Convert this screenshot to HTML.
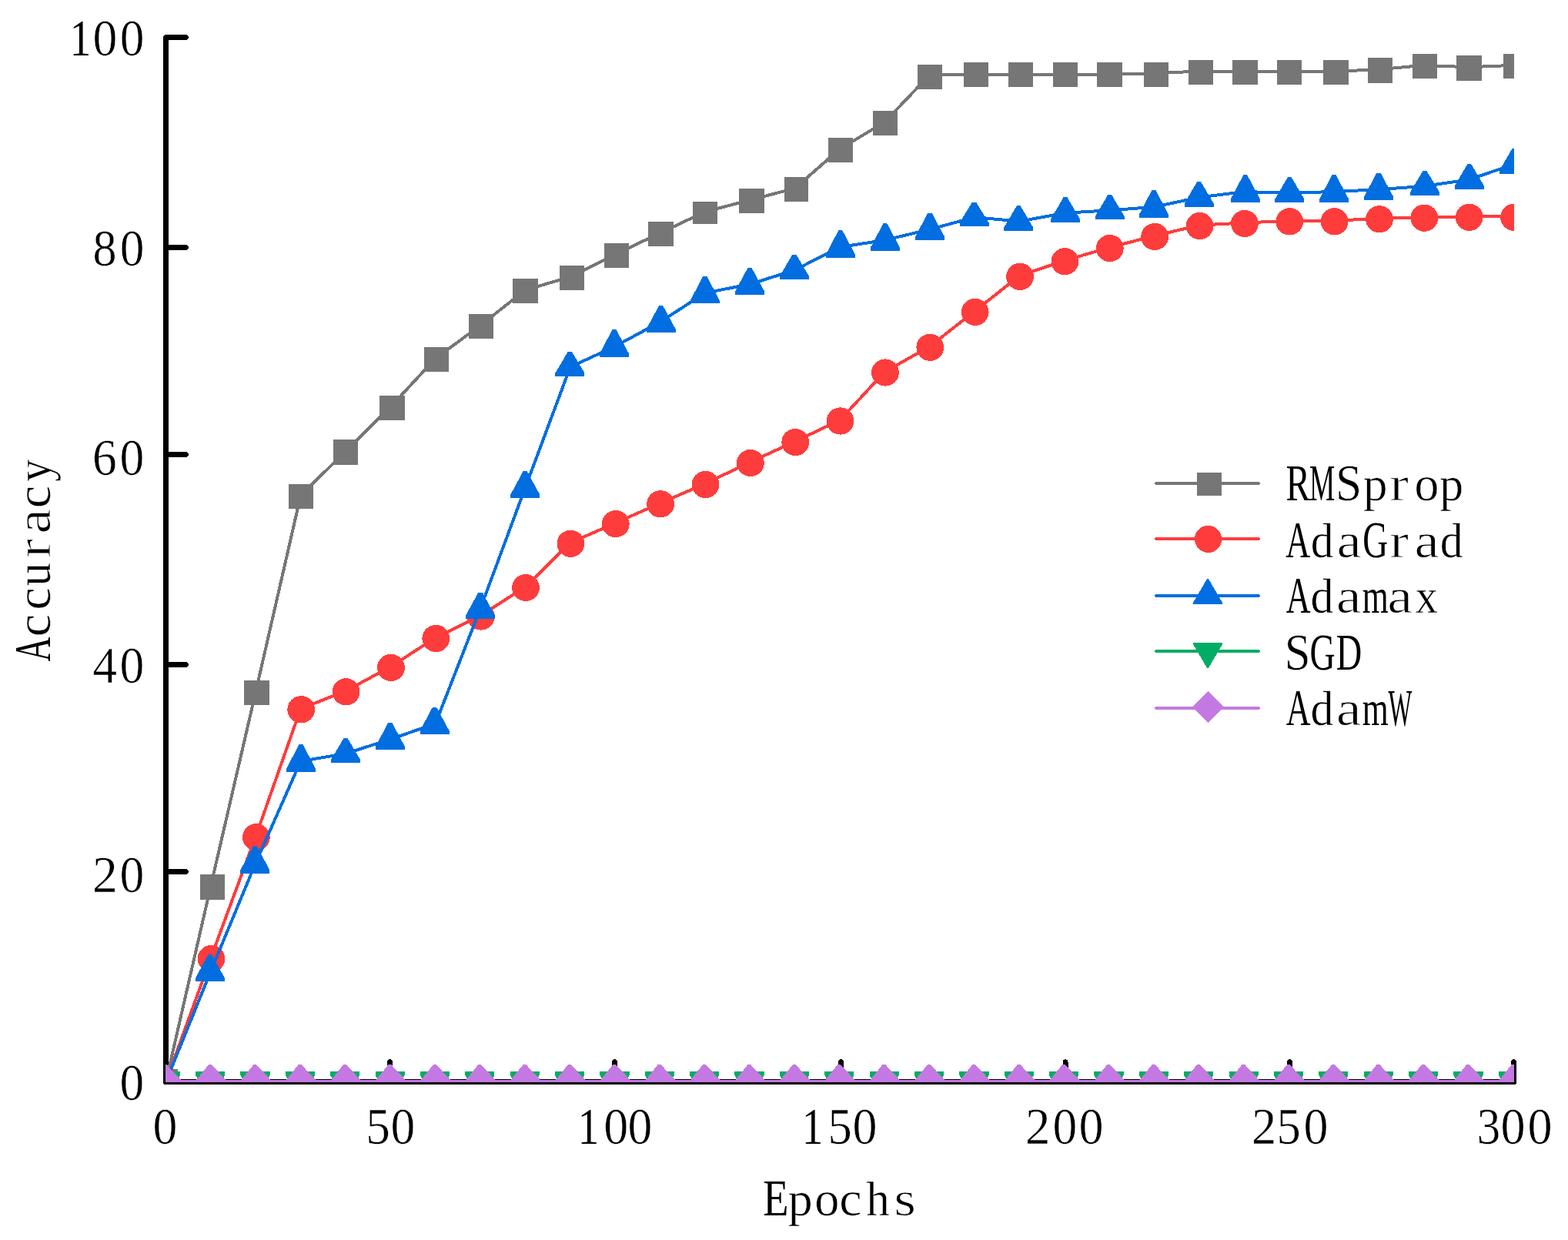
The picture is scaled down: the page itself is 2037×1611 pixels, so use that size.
<!DOCTYPE html>
<html lang="en">
<head>
<meta charset="utf-8">
<title>Accuracy vs Epochs</title>
<style>
html,body{margin:0;padding:0;background:#fff;}
body{width:2037px;height:1611px;overflow:hidden;}
svg{display:block;}
text{font-family:"Liberation Serif",serif;white-space:pre;}
</style>
</head>
<body>
<svg width="2037" height="1611" viewBox="0 0 2037 1611" shape-rendering="crispEdges" role="img" aria-label="Accuracy versus epochs for five optimizers">
<defs><clipPath id="plot"><rect x="215" y="48" width="1752" height="1358"/></clipPath></defs>
<rect width="2037" height="1611" fill="#fff"/>
<path d="M241.2 48.5H215.5V1405.5H1966.5V1379.8M215.5 321.5H241.2M215.5 590.5H241.2M215.5 863.5H241.2M215.5 1132.5H241.2M506.5 1405.5V1379.8M798.5 1405.5V1379.8M1092.5 1405.5V1379.8M1384 1405.5V1379.8M1675.5 1405.5V1379.8" fill="none" stroke="#000" stroke-width="7" stroke-linecap="round" stroke-linejoin="round"/>
<g clip-path="url(#plot)">
<polyline points="215.5,1405.5 273.87,1151 332.23,898.75 390.6,643.8 448.97,586.25 507.33,528.6 565.7,465.75 624.07,422.85 682.43,376.75 740.8,359.75 799.17,330.55 857.53,302.75 915.9,275.2 974.27,259.85 1032.63,244.65 1091,193.55 1149.37,158.6 1207.73,97.2 1266.1,96.8 1324.47,96.8 1382.83,96.8 1441.2,96.8 1499.57,95.2 1557.93,92.55 1616.3,92.8 1674.67,92.8 1733.03,92.8 1791.4,90.3 1849.77,84.8 1908.13,87.25 1966.5,84.8" fill="none" stroke="#767676" stroke-width="4" stroke-linejoin="round" stroke-linecap="round"/>
<rect x="198.5" y="1389.2" width="32.5" height="32" fill="#767676"/>
<rect x="260.1" y="1136.1" width="31.9" height="32.4" fill="#767676"/>
<rect x="317.1" y="884.1" width="32.6" height="31.9" fill="#767676"/>
<rect x="375" y="629.2" width="31.9" height="31.8" fill="#767676"/>
<rect x="433.2" y="571.2" width="31.9" height="32.7" fill="#767676"/>
<rect x="493.1" y="514.1" width="32.8" height="31.6" fill="#767676"/>
<rect x="551" y="451.2" width="31.9" height="31.7" fill="#767676"/>
<rect x="608.7" y="408.2" width="32.4" height="31.9" fill="#767676"/>
<rect x="665.9" y="362.1" width="33.1" height="31.9" fill="#767676"/>
<rect x="726.8" y="345.1" width="32.4" height="31.9" fill="#767676"/>
<rect x="785" y="315.9" width="31.9" height="31.9" fill="#767676"/>
<rect x="842.2" y="288.1" width="32.6" height="31.9" fill="#767676"/>
<rect x="900.4" y="261.9" width="31.9" height="29.2" fill="#767676"/>
<rect x="960" y="245.2" width="33.1" height="31.9" fill="#767676"/>
<rect x="1018.9" y="230" width="31.2" height="31.9" fill="#767676"/>
<rect x="1076.1" y="178.9" width="31.9" height="31.9" fill="#767676"/>
<rect x="1134.3" y="143.8" width="31.9" height="32.2" fill="#767676"/>
<rect x="1192.1" y="83.8" width="31.9" height="32.2" fill="#767676"/>
<rect x="1252" y="80.9" width="32.1" height="31.9" fill="#767676"/>
<rect x="1309.9" y="80.9" width="31.9" height="31.9" fill="#767676"/>
<rect x="1368.1" y="80.9" width="31.9" height="31.9" fill="#767676"/>
<rect x="1425" y="80.9" width="33.2" height="31.9" fill="#767676"/>
<rect x="1485.9" y="80.9" width="32.4" height="31.9" fill="#767676"/>
<rect x="1544.1" y="77.9" width="31.9" height="31.9" fill="#767676"/>
<rect x="1601.1" y="78.2" width="32.9" height="31.8" fill="#767676"/>
<rect x="1658.8" y="78.2" width="32.5" height="31.8" fill="#767676"/>
<rect x="1718.9" y="78.2" width="33.2" height="31.8" fill="#767676"/>
<rect x="1776.8" y="75.3" width="32.3" height="32.6" fill="#767676"/>
<rect x="1835" y="70.2" width="32.1" height="31.8" fill="#767676"/>
<rect x="1892" y="72.3" width="33" height="32.5" fill="#767676"/>
<rect x="1953.3" y="70.2" width="32.7" height="31.8" fill="#767676"/>
<polyline points="215.5,1405.5 273.87,1244.6 332.23,1086.8 390.6,920.8 448.97,897.8 507.33,866.4 565.7,828.5 624.07,800 682.43,762.5 740.8,705.3 799.17,679.6 857.53,653.8 915.9,628.5 974.27,600.5 1032.63,573.6 1091,546 1149.37,483 1207.73,450.3 1266.1,404.4 1324.47,358.3 1382.83,338.7 1441.2,321.5 1499.57,306.5 1557.93,292.6 1616.3,289.5 1674.67,286.8 1733.03,286.8 1791.4,283.8 1849.77,282.2 1908.13,281.3 1966.5,281.3" fill="none" stroke="#FF3C3C" stroke-width="4" stroke-linejoin="round" stroke-linecap="round"/>
<ellipse cx="216.1" cy="1405.5" rx="17.9" ry="17.6" fill="#FF3C3C"/>
<ellipse cx="274.47" cy="1245.6" rx="17.9" ry="17.6" fill="#FF3C3C"/>
<ellipse cx="332.83" cy="1087.8" rx="17.9" ry="17.6" fill="#FF3C3C"/>
<ellipse cx="391.2" cy="921.8" rx="17.9" ry="17.6" fill="#FF3C3C"/>
<ellipse cx="449.57" cy="898.8" rx="17.9" ry="17.6" fill="#FF3C3C"/>
<ellipse cx="507.93" cy="867.4" rx="17.9" ry="17.6" fill="#FF3C3C"/>
<ellipse cx="566.3" cy="829.5" rx="17.9" ry="17.6" fill="#FF3C3C"/>
<ellipse cx="624.67" cy="801" rx="17.9" ry="17.6" fill="#FF3C3C"/>
<ellipse cx="683.03" cy="763.5" rx="17.9" ry="17.6" fill="#FF3C3C"/>
<ellipse cx="741.4" cy="706.3" rx="17.9" ry="17.6" fill="#FF3C3C"/>
<ellipse cx="799.77" cy="680.6" rx="17.9" ry="17.6" fill="#FF3C3C"/>
<ellipse cx="858.13" cy="654.8" rx="17.9" ry="17.6" fill="#FF3C3C"/>
<ellipse cx="916.5" cy="629.5" rx="17.9" ry="17.6" fill="#FF3C3C"/>
<ellipse cx="974.87" cy="601.5" rx="17.9" ry="17.6" fill="#FF3C3C"/>
<ellipse cx="1033.23" cy="574.6" rx="17.9" ry="17.6" fill="#FF3C3C"/>
<ellipse cx="1091.6" cy="547" rx="17.9" ry="17.6" fill="#FF3C3C"/>
<ellipse cx="1149.97" cy="484" rx="17.9" ry="17.6" fill="#FF3C3C"/>
<ellipse cx="1208.33" cy="451.3" rx="17.9" ry="17.6" fill="#FF3C3C"/>
<ellipse cx="1266.7" cy="405.4" rx="17.9" ry="17.6" fill="#FF3C3C"/>
<ellipse cx="1325.07" cy="359.3" rx="17.9" ry="17.6" fill="#FF3C3C"/>
<ellipse cx="1383.43" cy="339.7" rx="17.9" ry="17.6" fill="#FF3C3C"/>
<ellipse cx="1441.8" cy="322.5" rx="17.9" ry="17.6" fill="#FF3C3C"/>
<ellipse cx="1500.17" cy="307.5" rx="17.9" ry="17.6" fill="#FF3C3C"/>
<ellipse cx="1558.53" cy="293.6" rx="17.9" ry="17.6" fill="#FF3C3C"/>
<ellipse cx="1616.9" cy="290.5" rx="17.9" ry="17.6" fill="#FF3C3C"/>
<ellipse cx="1675.27" cy="287.8" rx="17.9" ry="17.6" fill="#FF3C3C"/>
<ellipse cx="1733.63" cy="287.8" rx="17.9" ry="17.6" fill="#FF3C3C"/>
<ellipse cx="1792" cy="284.8" rx="17.9" ry="17.6" fill="#FF3C3C"/>
<ellipse cx="1850.37" cy="283.2" rx="17.9" ry="17.6" fill="#FF3C3C"/>
<ellipse cx="1908.73" cy="282.3" rx="17.9" ry="17.6" fill="#FF3C3C"/>
<ellipse cx="1967.1" cy="282.3" rx="17.9" ry="17.6" fill="#FF3C3C"/>
<polyline points="215.5,1405.5 273.87,1261.65 332.23,1120.95 390.6,989.05 448.97,979.05 507.33,960.45 565.7,940.1 624.07,790.6 682.43,633.45 740.8,476.85 799.17,449.85 857.53,418.35 915.9,380.65 974.27,369.25 1032.63,350.85 1091,321.05 1149.37,312 1207.73,298.1 1266.1,282.15 1324.47,287.65 1382.83,276.75 1441.2,273.3 1499.57,268.85 1557.93,256.35 1616.3,249.05 1674.67,250.6 1733.03,249.05 1791.4,246.1 1849.77,241.95 1908.13,233.4 1966.5,213.5" fill="none" stroke="#006EE0" stroke-width="4" stroke-linejoin="round" stroke-linecap="round"/>
<path d="M212.5 1384L217.4 1384L234.1 1414.9L234.1 1418.9L196.1 1418.9L196.1 1414.6Z" fill="#006EE0"/>
<path d="M270.45 1240.4L275.35 1240.4L292.05 1270.8L292.05 1274.8L254.05 1274.8L254.05 1270.5Z" fill="#006EE0"/>
<path d="M328.85 1099.2L333.75 1099.2L350.45 1130.6L350.45 1134.6L312.45 1134.6L312.45 1130.3Z" fill="#006EE0"/>
<path d="M388.55 967.1L393.45 967.1L410.15 998.9L410.15 1002.9L372.15 1002.9L372.15 998.6Z" fill="#006EE0"/>
<path d="M446.55 959L451.45 959L468.15 987L468.15 991L430.15 991L430.15 986.7Z" fill="#006EE0"/>
<path d="M504.35 938.9L509.25 938.9L525.95 969.9L525.95 973.9L487.95 973.9L487.95 969.6Z" fill="#006EE0"/>
<path d="M562.05 918.5L566.95 918.5L583.65 949.6L583.65 953.6L545.65 953.6L545.65 949.3Z" fill="#006EE0"/>
<path d="M621.55 769.5L626.45 769.5L643.15 799.6L643.15 803.6L605.15 803.6L605.15 799.3Z" fill="#006EE0"/>
<path d="M679.75 612L684.65 612L701.35 642.8L701.35 646.8L663.35 646.8L663.35 642.5Z" fill="#006EE0"/>
<path d="M737.85 456.9L742.75 456.9L759.45 484.7L759.45 488.7L721.45 488.7L721.45 484.4Z" fill="#006EE0"/>
<path d="M795.55 428L800.45 428L817.15 459.6L817.15 463.6L779.15 463.6L779.15 459.3Z" fill="#006EE0"/>
<path d="M856.15 396.9L861.05 396.9L877.75 427.7L877.75 431.7L839.75 431.7L839.75 427.4Z" fill="#006EE0"/>
<path d="M913.35 358.8L918.25 358.8L934.95 390.4L934.95 394.4L896.95 394.4L896.95 390.1Z" fill="#006EE0"/>
<path d="M971.55 347.8L976.45 347.8L993.15 378.6L993.15 382.6L955.15 382.6L955.15 378.3Z" fill="#006EE0"/>
<path d="M1029.45 330.6L1034.35 330.6L1051.05 359L1051.05 363L1013.05 363L1013.05 358.7Z" fill="#006EE0"/>
<path d="M1089.35 299.2L1094.25 299.2L1110.95 330.8L1110.95 334.8L1072.95 334.8L1072.95 330.5Z" fill="#006EE0"/>
<path d="M1147.45 290.3L1152.35 290.3L1169.05 321.6L1169.05 325.6L1131.05 325.6L1131.05 321.3Z" fill="#006EE0"/>
<path d="M1205.55 276.5L1210.45 276.5L1227.15 307.6L1227.15 311.6L1189.15 311.6L1189.15 307.3Z" fill="#006EE0"/>
<path d="M1263.05 262.5L1267.95 262.5L1284.65 289.7L1284.65 293.7L1246.65 293.7L1246.65 289.4Z" fill="#006EE0"/>
<path d="M1320.75 267.4L1325.65 267.4L1342.35 295.8L1342.35 299.8L1304.35 299.8L1304.35 295.5Z" fill="#006EE0"/>
<path d="M1381.55 256.4L1386.45 256.4L1403.15 285L1403.15 289L1365.15 289L1365.15 284.7Z" fill="#006EE0"/>
<path d="M1439.25 253.2L1444.15 253.2L1460.85 281.3L1460.85 285.3L1422.85 285.3L1422.85 281Z" fill="#006EE0"/>
<path d="M1496.45 247L1501.35 247L1518.05 278.6L1518.05 282.6L1480.05 282.6L1480.05 278.3Z" fill="#006EE0"/>
<path d="M1555.15 236L1560.05 236L1576.75 264.6L1576.75 268.6L1538.75 268.6L1538.75 264.3Z" fill="#006EE0"/>
<path d="M1615.35 227.3L1620.25 227.3L1636.95 258.7L1636.95 262.7L1598.95 262.7L1598.95 258.4Z" fill="#006EE0"/>
<path d="M1672.85 230.4L1677.75 230.4L1694.45 258.7L1694.45 262.7L1656.45 262.7L1656.45 258.4Z" fill="#006EE0"/>
<path d="M1730.55 227.3L1735.45 227.3L1752.15 258.7L1752.15 262.7L1714.15 262.7L1714.15 258.4Z" fill="#006EE0"/>
<path d="M1788.55 224.5L1793.45 224.5L1810.15 255.6L1810.15 259.6L1772.15 259.6L1772.15 255.3Z" fill="#006EE0"/>
<path d="M1848.55 222.1L1853.45 222.1L1870.15 249.7L1870.15 253.7L1832.15 253.7L1832.15 249.4Z" fill="#006EE0"/>
<path d="M1906.35 213.2L1911.25 213.2L1927.95 241.5L1927.95 245.5L1889.95 245.5L1889.95 241.2Z" fill="#006EE0"/>
<path d="M1964.35 193.2L1969.25 193.2L1985.95 221.7L1985.95 225.7L1947.95 225.7L1947.95 221.4Z" fill="#006EE0"/>
<polyline points="215.5,1405 273.87,1405 332.23,1405 390.6,1405 448.97,1405 507.33,1405 565.7,1405 624.07,1405 682.43,1405 740.8,1405 799.17,1405 857.53,1405 915.9,1405 974.27,1405 1032.63,1405 1091,1405 1149.37,1405 1207.73,1405 1266.1,1405 1324.47,1405 1382.83,1405 1441.2,1405 1499.57,1405 1557.93,1405 1616.3,1405 1674.67,1405 1733.03,1405 1791.4,1405 1849.77,1405 1908.13,1405 1966.5,1405" fill="none" stroke="#00AD64" stroke-width="4" stroke-linejoin="round" stroke-linecap="round"/>
<path d="M195.7 1392.1L233.9 1392.1L233.9 1396.9L217.4 1427.1L212.5 1427.1L195.7 1396.9Z" fill="#00AD64"/>
<path d="M254.07 1392.1L292.27 1392.1L292.27 1396.9L275.77 1427.1L270.87 1427.1L254.07 1396.9Z" fill="#00AD64"/>
<path d="M312.43 1392.1L350.63 1392.1L350.63 1396.9L334.13 1427.1L329.23 1427.1L312.43 1396.9Z" fill="#00AD64"/>
<path d="M370.8 1392.1L409 1392.1L409 1396.9L392.5 1427.1L387.6 1427.1L370.8 1396.9Z" fill="#00AD64"/>
<path d="M429.17 1392.1L467.37 1392.1L467.37 1396.9L450.87 1427.1L445.97 1427.1L429.17 1396.9Z" fill="#00AD64"/>
<path d="M487.53 1392.1L525.73 1392.1L525.73 1396.9L509.23 1427.1L504.33 1427.1L487.53 1396.9Z" fill="#00AD64"/>
<path d="M545.9 1392.1L584.1 1392.1L584.1 1396.9L567.6 1427.1L562.7 1427.1L545.9 1396.9Z" fill="#00AD64"/>
<path d="M604.27 1392.1L642.47 1392.1L642.47 1396.9L625.97 1427.1L621.07 1427.1L604.27 1396.9Z" fill="#00AD64"/>
<path d="M662.63 1392.1L700.83 1392.1L700.83 1396.9L684.33 1427.1L679.43 1427.1L662.63 1396.9Z" fill="#00AD64"/>
<path d="M721 1392.1L759.2 1392.1L759.2 1396.9L742.7 1427.1L737.8 1427.1L721 1396.9Z" fill="#00AD64"/>
<path d="M779.37 1392.1L817.57 1392.1L817.57 1396.9L801.07 1427.1L796.17 1427.1L779.37 1396.9Z" fill="#00AD64"/>
<path d="M837.73 1392.1L875.93 1392.1L875.93 1396.9L859.43 1427.1L854.53 1427.1L837.73 1396.9Z" fill="#00AD64"/>
<path d="M896.1 1392.1L934.3 1392.1L934.3 1396.9L917.8 1427.1L912.9 1427.1L896.1 1396.9Z" fill="#00AD64"/>
<path d="M954.47 1392.1L992.67 1392.1L992.67 1396.9L976.17 1427.1L971.27 1427.1L954.47 1396.9Z" fill="#00AD64"/>
<path d="M1012.83 1392.1L1051.03 1392.1L1051.03 1396.9L1034.53 1427.1L1029.63 1427.1L1012.83 1396.9Z" fill="#00AD64"/>
<path d="M1071.2 1392.1L1109.4 1392.1L1109.4 1396.9L1092.9 1427.1L1088 1427.1L1071.2 1396.9Z" fill="#00AD64"/>
<path d="M1129.57 1392.1L1167.77 1392.1L1167.77 1396.9L1151.27 1427.1L1146.37 1427.1L1129.57 1396.9Z" fill="#00AD64"/>
<path d="M1187.93 1392.1L1226.13 1392.1L1226.13 1396.9L1209.63 1427.1L1204.73 1427.1L1187.93 1396.9Z" fill="#00AD64"/>
<path d="M1246.3 1392.1L1284.5 1392.1L1284.5 1396.9L1268 1427.1L1263.1 1427.1L1246.3 1396.9Z" fill="#00AD64"/>
<path d="M1304.67 1392.1L1342.87 1392.1L1342.87 1396.9L1326.37 1427.1L1321.47 1427.1L1304.67 1396.9Z" fill="#00AD64"/>
<path d="M1363.03 1392.1L1401.23 1392.1L1401.23 1396.9L1384.73 1427.1L1379.83 1427.1L1363.03 1396.9Z" fill="#00AD64"/>
<path d="M1421.4 1392.1L1459.6 1392.1L1459.6 1396.9L1443.1 1427.1L1438.2 1427.1L1421.4 1396.9Z" fill="#00AD64"/>
<path d="M1479.77 1392.1L1517.97 1392.1L1517.97 1396.9L1501.47 1427.1L1496.57 1427.1L1479.77 1396.9Z" fill="#00AD64"/>
<path d="M1538.13 1392.1L1576.33 1392.1L1576.33 1396.9L1559.83 1427.1L1554.93 1427.1L1538.13 1396.9Z" fill="#00AD64"/>
<path d="M1596.5 1392.1L1634.7 1392.1L1634.7 1396.9L1618.2 1427.1L1613.3 1427.1L1596.5 1396.9Z" fill="#00AD64"/>
<path d="M1654.87 1392.1L1693.07 1392.1L1693.07 1396.9L1676.57 1427.1L1671.67 1427.1L1654.87 1396.9Z" fill="#00AD64"/>
<path d="M1713.23 1392.1L1751.43 1392.1L1751.43 1396.9L1734.93 1427.1L1730.03 1427.1L1713.23 1396.9Z" fill="#00AD64"/>
<path d="M1771.6 1392.1L1809.8 1392.1L1809.8 1396.9L1793.3 1427.1L1788.4 1427.1L1771.6 1396.9Z" fill="#00AD64"/>
<path d="M1829.97 1392.1L1868.17 1392.1L1868.17 1396.9L1851.67 1427.1L1846.77 1427.1L1829.97 1396.9Z" fill="#00AD64"/>
<path d="M1888.33 1392.1L1926.53 1392.1L1926.53 1396.9L1910.03 1427.1L1905.13 1427.1L1888.33 1396.9Z" fill="#00AD64"/>
<path d="M1946.7 1392.1L1984.9 1392.1L1984.9 1396.9L1968.4 1427.1L1963.5 1427.1L1946.7 1396.9Z" fill="#00AD64"/>
<polyline points="215.5,1405 273.87,1405 332.23,1405 390.6,1405 448.97,1405 507.33,1405 565.7,1405 624.07,1405 682.43,1405 740.8,1405 799.17,1405 857.53,1405 915.9,1405 974.27,1405 1032.63,1405 1091,1405 1149.37,1405 1207.73,1405 1266.1,1405 1324.47,1405 1382.83,1405 1441.2,1405 1499.57,1405 1557.93,1405 1616.3,1405 1674.67,1405 1733.03,1405 1791.4,1405 1849.77,1405 1908.13,1405 1966.5,1405" fill="none" stroke="#C479E2" stroke-width="4" stroke-linejoin="round" stroke-linecap="round"/>
<path d="M212.8 1383L216.3 1383L235.3 1403.3L235.3 1407.5L216.3 1428L212.8 1428L196.5 1407.5L196.5 1403.3Z" fill="#C479E2"/>
<path d="M271.17 1383L274.67 1383L293.67 1403.3L293.67 1407.5L274.67 1428L271.17 1428L254.87 1407.5L254.87 1403.3Z" fill="#C479E2"/>
<path d="M329.53 1383L333.03 1383L352.03 1403.3L352.03 1407.5L333.03 1428L329.53 1428L313.23 1407.5L313.23 1403.3Z" fill="#C479E2"/>
<path d="M387.9 1383L391.4 1383L410.4 1403.3L410.4 1407.5L391.4 1428L387.9 1428L371.6 1407.5L371.6 1403.3Z" fill="#C479E2"/>
<path d="M446.27 1383L449.77 1383L468.77 1403.3L468.77 1407.5L449.77 1428L446.27 1428L429.97 1407.5L429.97 1403.3Z" fill="#C479E2"/>
<path d="M504.63 1383L508.13 1383L527.13 1403.3L527.13 1407.5L508.13 1428L504.63 1428L488.33 1407.5L488.33 1403.3Z" fill="#C479E2"/>
<path d="M563 1383L566.5 1383L585.5 1403.3L585.5 1407.5L566.5 1428L563 1428L546.7 1407.5L546.7 1403.3Z" fill="#C479E2"/>
<path d="M621.37 1383L624.87 1383L643.87 1403.3L643.87 1407.5L624.87 1428L621.37 1428L605.07 1407.5L605.07 1403.3Z" fill="#C479E2"/>
<path d="M679.73 1383L683.23 1383L702.23 1403.3L702.23 1407.5L683.23 1428L679.73 1428L663.43 1407.5L663.43 1403.3Z" fill="#C479E2"/>
<path d="M738.1 1383L741.6 1383L760.6 1403.3L760.6 1407.5L741.6 1428L738.1 1428L721.8 1407.5L721.8 1403.3Z" fill="#C479E2"/>
<path d="M796.47 1383L799.97 1383L818.97 1403.3L818.97 1407.5L799.97 1428L796.47 1428L780.17 1407.5L780.17 1403.3Z" fill="#C479E2"/>
<path d="M854.83 1383L858.33 1383L877.33 1403.3L877.33 1407.5L858.33 1428L854.83 1428L838.53 1407.5L838.53 1403.3Z" fill="#C479E2"/>
<path d="M913.2 1383L916.7 1383L935.7 1403.3L935.7 1407.5L916.7 1428L913.2 1428L896.9 1407.5L896.9 1403.3Z" fill="#C479E2"/>
<path d="M971.57 1383L975.07 1383L994.07 1403.3L994.07 1407.5L975.07 1428L971.57 1428L955.27 1407.5L955.27 1403.3Z" fill="#C479E2"/>
<path d="M1029.93 1383L1033.43 1383L1052.43 1403.3L1052.43 1407.5L1033.43 1428L1029.93 1428L1013.63 1407.5L1013.63 1403.3Z" fill="#C479E2"/>
<path d="M1088.3 1383L1091.8 1383L1110.8 1403.3L1110.8 1407.5L1091.8 1428L1088.3 1428L1072 1407.5L1072 1403.3Z" fill="#C479E2"/>
<path d="M1146.67 1383L1150.17 1383L1169.17 1403.3L1169.17 1407.5L1150.17 1428L1146.67 1428L1130.37 1407.5L1130.37 1403.3Z" fill="#C479E2"/>
<path d="M1205.03 1383L1208.53 1383L1227.53 1403.3L1227.53 1407.5L1208.53 1428L1205.03 1428L1188.73 1407.5L1188.73 1403.3Z" fill="#C479E2"/>
<path d="M1263.4 1383L1266.9 1383L1285.9 1403.3L1285.9 1407.5L1266.9 1428L1263.4 1428L1247.1 1407.5L1247.1 1403.3Z" fill="#C479E2"/>
<path d="M1321.77 1383L1325.27 1383L1344.27 1403.3L1344.27 1407.5L1325.27 1428L1321.77 1428L1305.47 1407.5L1305.47 1403.3Z" fill="#C479E2"/>
<path d="M1380.13 1383L1383.63 1383L1402.63 1403.3L1402.63 1407.5L1383.63 1428L1380.13 1428L1363.83 1407.5L1363.83 1403.3Z" fill="#C479E2"/>
<path d="M1438.5 1383L1442 1383L1461 1403.3L1461 1407.5L1442 1428L1438.5 1428L1422.2 1407.5L1422.2 1403.3Z" fill="#C479E2"/>
<path d="M1496.87 1383L1500.37 1383L1519.37 1403.3L1519.37 1407.5L1500.37 1428L1496.87 1428L1480.57 1407.5L1480.57 1403.3Z" fill="#C479E2"/>
<path d="M1555.23 1383L1558.73 1383L1577.73 1403.3L1577.73 1407.5L1558.73 1428L1555.23 1428L1538.93 1407.5L1538.93 1403.3Z" fill="#C479E2"/>
<path d="M1613.6 1383L1617.1 1383L1636.1 1403.3L1636.1 1407.5L1617.1 1428L1613.6 1428L1597.3 1407.5L1597.3 1403.3Z" fill="#C479E2"/>
<path d="M1671.97 1383L1675.47 1383L1694.47 1403.3L1694.47 1407.5L1675.47 1428L1671.97 1428L1655.67 1407.5L1655.67 1403.3Z" fill="#C479E2"/>
<path d="M1730.33 1383L1733.83 1383L1752.83 1403.3L1752.83 1407.5L1733.83 1428L1730.33 1428L1714.03 1407.5L1714.03 1403.3Z" fill="#C479E2"/>
<path d="M1788.7 1383L1792.2 1383L1811.2 1403.3L1811.2 1407.5L1792.2 1428L1788.7 1428L1772.4 1407.5L1772.4 1403.3Z" fill="#C479E2"/>
<path d="M1847.07 1383L1850.57 1383L1869.57 1403.3L1869.57 1407.5L1850.57 1428L1847.07 1428L1830.77 1407.5L1830.77 1403.3Z" fill="#C479E2"/>
<path d="M1905.43 1383L1908.93 1383L1927.93 1403.3L1927.93 1407.5L1908.93 1428L1905.43 1428L1889.13 1407.5L1889.13 1403.3Z" fill="#C479E2"/>
<path d="M1963.8 1383L1967.3 1383L1986.3 1403.3L1986.3 1407.5L1967.3 1428L1963.8 1428L1947.5 1407.5L1947.5 1403.3Z" fill="#C479E2"/>
</g>
<path d="M1501 626H1636V627H1637V629H1636V630H1501V629H1500V627H1501Z" fill="#767676"/>
<rect x="1555" y="614" width="32" height="30" fill="#767676"/>
<path d="M1501 698H1636V699H1637V701H1636V702H1501V701H1500V699H1501Z" fill="#FF3C3C"/>
<circle cx="1569.6" cy="700.4" r="17.6" fill="#FF3C3C"/>
<path d="M1501 772H1636V773H1637V775H1636V776H1501V775H1500V773H1501Z" fill="#006EE0"/>
<path d="M1569 753.4L1586.6 783.6L1551.4 783.6Z" fill="#006EE0" stroke="#006EE0" stroke-width="3" stroke-linejoin="round"/>
<path d="M1501 844H1636V845H1637V847H1636V848H1501V847H1500V845H1501Z" fill="#00AD64"/>
<path d="M1569 866.6L1586.6 836.4L1551.4 836.4Z" fill="#00AD64" stroke="#00AD64" stroke-width="3" stroke-linejoin="round"/>
<path d="M1501 918H1636V919H1637V921H1636V922H1501V921H1500V919H1501Z" fill="#C479E2"/>
<path d="M1569.3 899.2L1588.5 918.5L1569.3 937.8L1550.1 918.5Z" fill="#C479E2" stroke="#C479E2" stroke-width="2" stroke-linejoin="round"/>
<g font-family="'Liberation Serif', serif" fill="#000" stroke="#fff" stroke-width="0.5">
<text transform="translate(0 72.3)" y="0" font-size="67.4"><tspan x="90.87" stroke="none" textLength="27.48" lengthAdjust="spacingAndGlyphs">1</tspan><tspan x="120.47" textLength="31.85" lengthAdjust="spacingAndGlyphs">0</tspan><tspan x="155.64" textLength="31.68" lengthAdjust="spacingAndGlyphs">0</tspan></text>
<text transform="translate(0 345.3)" y="0" font-size="67.4"><tspan x="120.54" textLength="31.03" lengthAdjust="spacingAndGlyphs">8</tspan><tspan x="155.64" textLength="31.68" lengthAdjust="spacingAndGlyphs">0</tspan></text>
<text transform="translate(0 617.3)" y="0" font-size="67.4"><tspan x="120.07" textLength="31.71" lengthAdjust="spacingAndGlyphs">6</tspan><tspan x="155.57" textLength="31.85" lengthAdjust="spacingAndGlyphs">0</tspan></text>
<text transform="translate(0 887.3)" y="0" font-size="67.4"><tspan x="120.57" textLength="31.52" lengthAdjust="spacingAndGlyphs">4</tspan><tspan x="155.57" textLength="31.85" lengthAdjust="spacingAndGlyphs">0</tspan></text>
<text transform="translate(0 1159.3)" y="0" font-size="67.4"><tspan x="119.92" textLength="32.8" lengthAdjust="spacingAndGlyphs">2</tspan><tspan x="155.57" textLength="31.85" lengthAdjust="spacingAndGlyphs">0</tspan></text>
<text transform="translate(0 1429.3)" y="0" font-size="67.4"><tspan x="155.54" textLength="31.68" lengthAdjust="spacingAndGlyphs">0</tspan></text>
<text transform="translate(0 1486.3)" y="0" font-size="67.4"><tspan x="198.52" textLength="31.91" lengthAdjust="spacingAndGlyphs">0</tspan></text>
<text transform="translate(0 1486.3)" y="0" font-size="67.4"><tspan x="475.18" textLength="31.59" lengthAdjust="spacingAndGlyphs">5</tspan><tspan x="507.54" textLength="31.78" lengthAdjust="spacingAndGlyphs">0</tspan></text>
<text transform="translate(0 1486.3)" y="0" font-size="67.4"><tspan x="750.78" stroke="none" textLength="27.41" lengthAdjust="spacingAndGlyphs">1</tspan><tspan x="784.31" textLength="32.03" lengthAdjust="spacingAndGlyphs">0</tspan><tspan x="815.57" textLength="31.85" lengthAdjust="spacingAndGlyphs">0</tspan></text>
<text transform="translate(0 1486.3)" y="0" font-size="67.4"><tspan x="1042.12" stroke="none" textLength="27.21" lengthAdjust="spacingAndGlyphs">1</tspan><tspan x="1075.47" textLength="31.28" lengthAdjust="spacingAndGlyphs">5</tspan><tspan x="1107.51" textLength="31.98" lengthAdjust="spacingAndGlyphs">0</tspan></text>
<text transform="translate(0 1486.3)" y="0" font-size="67.4"><tspan x="1331.91" textLength="32.48" lengthAdjust="spacingAndGlyphs">2</tspan><tspan x="1367.54" textLength="31.78" lengthAdjust="spacingAndGlyphs">0</tspan><tspan x="1401.42" textLength="32.09" lengthAdjust="spacingAndGlyphs">0</tspan></text>
<text transform="translate(0 1486.3)" y="0" font-size="67.4"><tspan x="1626.01" textLength="32.3" lengthAdjust="spacingAndGlyphs">2</tspan><tspan x="1658.47" textLength="31.28" lengthAdjust="spacingAndGlyphs">5</tspan><tspan x="1693.42" textLength="31.98" lengthAdjust="spacingAndGlyphs">0</tspan></text>
<text transform="translate(0 1486.3)" y="0" font-size="67.4"><tspan x="1918.84" textLength="30.5" lengthAdjust="spacingAndGlyphs">3</tspan><tspan x="1949.46" textLength="32.09" lengthAdjust="spacingAndGlyphs">0</tspan><tspan x="1984.46" textLength="32.09" lengthAdjust="spacingAndGlyphs">0</tspan></text>
<text transform="translate(0 1579)" y="0" font-size="66.7"><tspan x="991.33" stroke="none" textLength="33.28" lengthAdjust="spacingAndGlyphs">E</tspan><tspan x="1023.77" font-size="63.03" textLength="31.92" lengthAdjust="spacingAndGlyphs">p</tspan><tspan x="1058.36" font-size="63.03" textLength="32.09" lengthAdjust="spacingAndGlyphs">o</tspan><tspan x="1090.17" font-size="63.03" stroke-width="0.63" textLength="29.47" lengthAdjust="spacingAndGlyphs">c</tspan><tspan x="1125.3" font-size="63.03" textLength="30.5" lengthAdjust="spacingAndGlyphs">h</tspan><tspan x="1161.18" font-size="63.03" stroke-width="0.92" textLength="28.69" lengthAdjust="spacingAndGlyphs">s</tspan></text>
<text transform="translate(65 0) rotate(-90)" y="0" font-size="66.7"><tspan x="-859.43" stroke="none" textLength="31.75" lengthAdjust="spacingAndGlyphs">A</tspan><tspan x="-827.31" font-size="63.03" textLength="29.23" lengthAdjust="spacingAndGlyphs">c</tspan><tspan x="-792.41" font-size="63.03" textLength="29.23" lengthAdjust="spacingAndGlyphs">c</tspan><tspan x="-761.61" font-size="63.03" textLength="30.55" lengthAdjust="spacingAndGlyphs">u</tspan><tspan x="-724.75" font-size="63.03" stroke-width="0.95" textLength="24.77" lengthAdjust="spacingAndGlyphs">r</tspan><tspan x="-693.58" font-size="63.03" stroke-width="0.91" textLength="32.58" lengthAdjust="spacingAndGlyphs">a</tspan><tspan x="-660.31" font-size="63.03" textLength="29.23" lengthAdjust="spacingAndGlyphs">c</tspan><tspan x="-625.71" font-size="63.03" textLength="28.93" lengthAdjust="spacingAndGlyphs">y</tspan></text>
<text transform="translate(0 650)" y="0" font-size="66.7"><tspan x="1670.54" stroke="none" textLength="31.53" lengthAdjust="spacingAndGlyphs">R</tspan><tspan x="1700.93" stroke="none" textLength="33.17" lengthAdjust="spacingAndGlyphs">M</tspan><tspan x="1735" textLength="34.1" lengthAdjust="spacingAndGlyphs">S</tspan><tspan x="1771.09" font-size="63.03" textLength="31.47" lengthAdjust="spacingAndGlyphs">p</tspan><tspan x="1805.15" font-size="63.03" stroke-width="0.95" textLength="24.77" lengthAdjust="spacingAndGlyphs">r</tspan><tspan x="1837.57" font-size="63.03" textLength="31.85" lengthAdjust="spacingAndGlyphs">o</tspan><tspan x="1870.2" font-size="63.03" textLength="30.91" lengthAdjust="spacingAndGlyphs">p</tspan></text>
<text transform="translate(0 724)" y="0" font-size="66.7"><tspan x="1670.37" stroke="none" textLength="31.85" lengthAdjust="spacingAndGlyphs">A</tspan><tspan x="1702.76" font-size="63.03" textLength="29.67" lengthAdjust="spacingAndGlyphs">d</tspan><tspan x="1736.55" font-size="63.03" stroke-width="0.88" textLength="32.25" lengthAdjust="spacingAndGlyphs">a</tspan><tspan x="1770.23" stroke="none" textLength="32.89" lengthAdjust="spacingAndGlyphs">G</tspan><tspan x="1805.15" font-size="63.03" stroke-width="0.95" textLength="24.77" lengthAdjust="spacingAndGlyphs">r</tspan><tspan x="1837.45" font-size="63.03" stroke-width="0.88" textLength="32.25" lengthAdjust="spacingAndGlyphs">a</tspan><tspan x="1870.73" font-size="63.03" textLength="30" lengthAdjust="spacingAndGlyphs">d</tspan></text>
<text transform="translate(0 796)" y="0" font-size="66.7"><tspan x="1670.67" stroke="none" textLength="31.75" lengthAdjust="spacingAndGlyphs">A</tspan><tspan x="1702.54" font-size="63.03" textLength="29.89" lengthAdjust="spacingAndGlyphs">d</tspan><tspan x="1735.89" font-size="63.03" stroke-width="0.94" textLength="32.92" lengthAdjust="spacingAndGlyphs">a</tspan><tspan x="1769.78" font-size="63.03" stroke="none" textLength="34" lengthAdjust="spacingAndGlyphs">m</tspan><tspan x="1802.29" font-size="63.03" stroke-width="0.94" textLength="32.92" lengthAdjust="spacingAndGlyphs">a</tspan><tspan x="1838.69" font-size="63.03" textLength="29.02" lengthAdjust="spacingAndGlyphs">x</tspan></text>
<text transform="translate(0 870)" y="0" font-size="66.7"><tspan x="1668.84" textLength="33.71" lengthAdjust="spacingAndGlyphs">S</tspan><tspan x="1701.42" stroke="none" textLength="33.11" lengthAdjust="spacingAndGlyphs">G</tspan><tspan x="1735.76" stroke="none" textLength="33.49" lengthAdjust="spacingAndGlyphs">D</tspan></text>
<text transform="translate(0 942)" y="0" font-size="66.7"><tspan x="1670.67" stroke="none" textLength="31.75" lengthAdjust="spacingAndGlyphs">A</tspan><tspan x="1702.54" font-size="63.03" textLength="29.89" lengthAdjust="spacingAndGlyphs">d</tspan><tspan x="1735.89" font-size="63.03" stroke-width="0.94" textLength="32.92" lengthAdjust="spacingAndGlyphs">a</tspan><tspan x="1769.78" font-size="63.03" stroke="none" textLength="34" lengthAdjust="spacingAndGlyphs">m</tspan><tspan x="1803.47" stroke="none" textLength="30.8" lengthAdjust="spacingAndGlyphs">W</tspan></text>
</g>
</svg>
</body>
</html>
